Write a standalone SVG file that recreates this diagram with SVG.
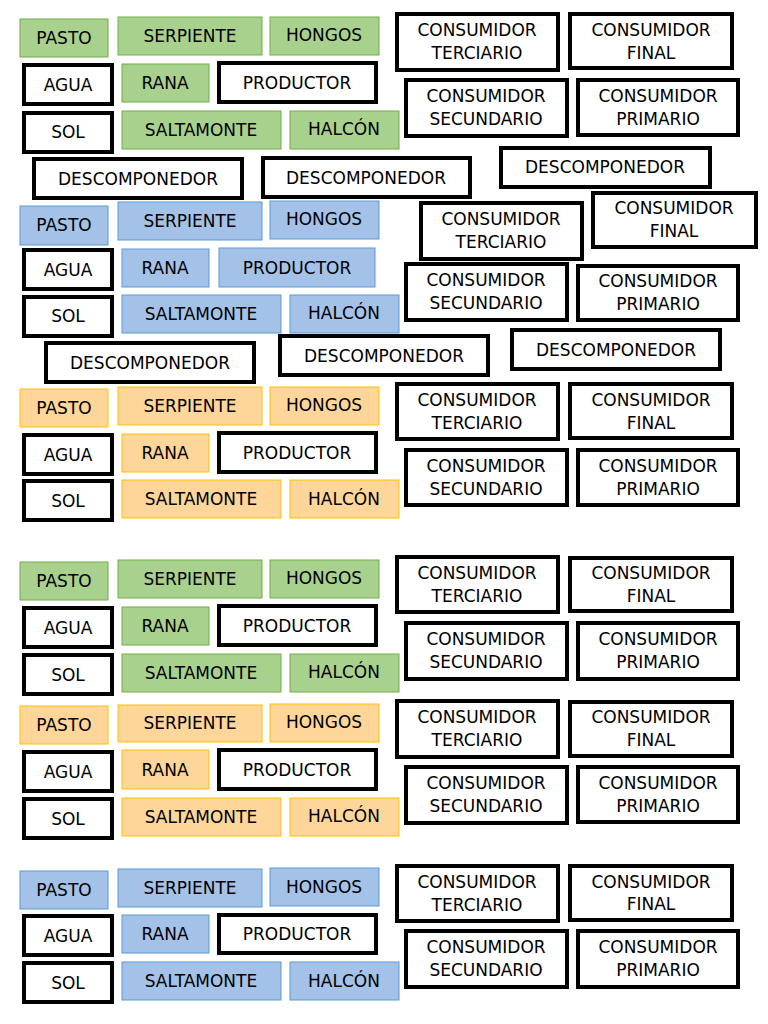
<svg xmlns="http://www.w3.org/2000/svg" width="768" height="1024" viewBox="0 0 768 1024">
<style>
text{font-family:"DejaVu Sans",sans-serif;font-size:17px;text-anchor:middle;dominant-baseline:central;fill:#000}
.w{fill:#fff;stroke:#000;stroke-width:4}
.g{fill:#a9d18e;stroke:#70ad47;stroke-width:1}
.b{fill:#a4c2e8;stroke:#5b9bd5;stroke-width:1}
.o{fill:#ffd699;stroke:#ffc000;stroke-width:1}
</style>
<rect width="768" height="1024" fill="#fff"/>
<g id="s1">
<g id="s1-pasto"><rect class="g" x="20" y="19" width="88" height="38"/><text x="64" y="38">PASTO</text></g>
<g id="s1-serpiente"><rect class="g" x="118" y="17" width="144" height="38"/><text x="190" y="36">SERPIENTE</text></g>
<g id="s1-hongos"><rect class="g" x="270" y="17" width="109" height="38"/><text x="324" y="35">HONGOS</text></g>
<g id="s1-agua"><rect class="w" x="24" y="65" width="88" height="39"/><text x="68" y="85">AGUA</text></g>
<g id="s1-rana"><rect class="g" x="122" y="64" width="87" height="38"/><text x="165" y="83">RANA</text></g>
<g id="s1-productor"><rect class="w" x="219" y="63" width="157" height="39"/><text x="297" y="83">PRODUCTOR</text></g>
<g id="s1-sol"><rect class="w" x="24" y="113" width="88" height="39"/><text x="68" y="132">SOL</text></g>
<g id="s1-saltamonte"><rect class="g" x="122" y="111" width="159" height="38"/><text x="201" y="130">SALTAMONTE</text></g>
<g id="s1-halcon"><rect class="g" x="290" y="111" width="109" height="38"/><text x="344" y="129">HALCÓN</text></g>
<g id="s1-ct"><rect class="w" x="397" y="14" width="161" height="56"/><text x="477" y="30">CONSUMIDOR</text><text x="477" y="53">TERCIARIO</text></g>
<g id="s1-cf"><rect class="w" x="570" y="14" width="162" height="54"/><text x="651" y="30">CONSUMIDOR</text><text x="651" y="53">FINAL</text></g>
<g id="s1-cs"><rect class="w" x="406" y="80" width="161" height="56"/><text x="486" y="96">CONSUMIDOR</text><text x="486" y="119">SECUNDARIO</text></g>
<g id="s1-cp"><rect class="w" x="578" y="80" width="160" height="55"/><text x="658" y="96">CONSUMIDOR</text><text x="658" y="119">PRIMARIO</text></g>
<g id="s1-d1"><rect class="w" x="34" y="159" width="208" height="39"/><text x="138" y="179">DESCOMPONEDOR</text></g>
<g id="s1-d2"><rect class="w" x="263" y="158" width="207" height="39"/><text x="366" y="178">DESCOMPONEDOR</text></g>
<g id="s1-d3"><rect class="w" x="501" y="148" width="209" height="39"/><text x="605" y="167">DESCOMPONEDOR</text></g>
</g>
<g id="s2">
<g id="s2-pasto"><rect class="b" x="20" y="206" width="88" height="39"/><text x="64" y="225">PASTO</text></g>
<g id="s2-serpiente"><rect class="b" x="118" y="202" width="144" height="38"/><text x="190" y="221">SERPIENTE</text></g>
<g id="s2-hongos"><rect class="b" x="270" y="201" width="109" height="38"/><text x="324" y="219">HONGOS</text></g>
<g id="s2-agua"><rect class="w" x="24" y="250" width="88" height="39"/><text x="68" y="270">AGUA</text></g>
<g id="s2-rana"><rect class="b" x="122" y="249" width="87" height="38"/><text x="165" y="268">RANA</text></g>
<g id="s2-productor"><rect class="b" x="219" y="248" width="156" height="39"/><text x="297" y="268">PRODUCTOR</text></g>
<g id="s2-sol"><rect class="w" x="24" y="297" width="88" height="39"/><text x="68" y="316">SOL</text></g>
<g id="s2-saltamonte"><rect class="b" x="122" y="295" width="159" height="38"/><text x="201" y="314">SALTAMONTE</text></g>
<g id="s2-halcon"><rect class="b" x="290" y="295" width="109" height="38"/><text x="344" y="313">HALCÓN</text></g>
<g id="s2-ct"><rect class="w" x="421" y="203" width="161" height="56"/><text x="501" y="219">CONSUMIDOR</text><text x="501" y="242">TERCIARIO</text></g>
<g id="s2-cf"><rect class="w" x="593" y="193" width="163" height="54"/><text x="674" y="208">CONSUMIDOR</text><text x="674" y="231">FINAL</text></g>
<g id="s2-cs"><rect class="w" x="406" y="264" width="161" height="56"/><text x="486" y="280">CONSUMIDOR</text><text x="486" y="303">SECUNDARIO</text></g>
<g id="s2-cp"><rect class="w" x="578" y="266" width="160" height="54"/><text x="658" y="281">CONSUMIDOR</text><text x="658" y="304">PRIMARIO</text></g>
<g id="s2-d1"><rect class="w" x="46" y="343" width="208" height="39"/><text x="150" y="363">DESCOMPONEDOR</text></g>
<g id="s2-d2"><rect class="w" x="280" y="336" width="208" height="39"/><text x="384" y="356">DESCOMPONEDOR</text></g>
<g id="s2-d3"><rect class="w" x="512" y="330" width="208" height="39"/><text x="616" y="350">DESCOMPONEDOR</text></g>
</g>
<g id="s3" transform="translate(0,370)">
<g id="s3-pasto"><rect class="o" x="20" y="19" width="88" height="38"/><text x="64" y="38">PASTO</text></g>
<g id="s3-serpiente"><rect class="o" x="118" y="17" width="144" height="38"/><text x="190" y="36">SERPIENTE</text></g>
<g id="s3-hongos"><rect class="o" x="270" y="17" width="109" height="38"/><text x="324" y="35">HONGOS</text></g>
<g id="s3-agua"><rect class="w" x="24" y="65" width="88" height="39"/><text x="68" y="85">AGUA</text></g>
<g id="s3-rana"><rect class="o" x="122" y="64" width="87" height="38"/><text x="165" y="83">RANA</text></g>
<g id="s3-productor"><rect class="w" x="219" y="63" width="157" height="39"/><text x="297" y="83">PRODUCTOR</text></g>
<g id="s3-sol"><rect class="w" x="24" y="111" width="88" height="39"/><text x="68" y="131">SOL</text></g>
<g id="s3-saltamonte"><rect class="o" x="122" y="110" width="159" height="38"/><text x="201" y="129">SALTAMONTE</text></g>
<g id="s3-halcon"><rect class="o" x="290" y="110" width="109" height="38"/><text x="344" y="129">HALCÓN</text></g>
<g id="s3-ct"><rect class="w" x="397" y="14" width="161" height="55"/><text x="477" y="30">CONSUMIDOR</text><text x="477" y="53">TERCIARIO</text></g>
<g id="s3-cf"><rect class="w" x="570" y="14" width="162" height="54"/><text x="651" y="30">CONSUMIDOR</text><text x="651" y="53">FINAL</text></g>
<g id="s3-cs"><rect class="w" x="406" y="80" width="161" height="55"/><text x="486" y="96">CONSUMIDOR</text><text x="486" y="119">SECUNDARIO</text></g>
<g id="s3-cp"><rect class="w" x="578" y="80" width="160" height="55"/><text x="658" y="96">CONSUMIDOR</text><text x="658" y="119">PRIMARIO</text></g>
</g>
<g id="s4" transform="translate(0,543)">
<g id="s4-pasto"><rect class="g" x="20" y="19" width="88" height="38"/><text x="64" y="38">PASTO</text></g>
<g id="s4-serpiente"><rect class="g" x="118" y="17" width="144" height="38"/><text x="190" y="36">SERPIENTE</text></g>
<g id="s4-hongos"><rect class="g" x="270" y="17" width="109" height="38"/><text x="324" y="35">HONGOS</text></g>
<g id="s4-agua"><rect class="w" x="24" y="65" width="88" height="39"/><text x="68" y="85">AGUA</text></g>
<g id="s4-rana"><rect class="g" x="122" y="64" width="87" height="38"/><text x="165" y="83">RANA</text></g>
<g id="s4-productor"><rect class="w" x="219" y="63" width="157" height="39"/><text x="297" y="83">PRODUCTOR</text></g>
<g id="s4-sol"><rect class="w" x="24" y="112" width="88" height="39"/><text x="68" y="132">SOL</text></g>
<g id="s4-saltamonte"><rect class="g" x="122" y="111" width="159" height="38"/><text x="201" y="130">SALTAMONTE</text></g>
<g id="s4-halcon"><rect class="g" x="290" y="111" width="109" height="38"/><text x="344" y="129">HALCÓN</text></g>
<g id="s4-ct"><rect class="w" x="397" y="14" width="161" height="55"/><text x="477" y="30">CONSUMIDOR</text><text x="477" y="53">TERCIARIO</text></g>
<g id="s4-cf"><rect class="w" x="570" y="15" width="162" height="53"/><text x="651" y="30">CONSUMIDOR</text><text x="651" y="53">FINAL</text></g>
<g id="s4-cs"><rect class="w" x="406" y="80" width="161" height="56"/><text x="486" y="96">CONSUMIDOR</text><text x="486" y="119">SECUNDARIO</text></g>
<g id="s4-cp"><rect class="w" x="578" y="80" width="160" height="56"/><text x="658" y="96">CONSUMIDOR</text><text x="658" y="119">PRIMARIO</text></g>
</g>
<g id="s5" transform="translate(0,687)">
<g id="s5-pasto"><rect class="o" x="20" y="19" width="88" height="38"/><text x="64" y="38">PASTO</text></g>
<g id="s5-serpiente"><rect class="o" x="118" y="18" width="144" height="37"/><text x="190" y="36">SERPIENTE</text></g>
<g id="s5-hongos"><rect class="o" x="270" y="17" width="109" height="38"/><text x="324" y="35">HONGOS</text></g>
<g id="s5-agua"><rect class="w" x="24" y="65" width="88" height="39"/><text x="68" y="85">AGUA</text></g>
<g id="s5-rana"><rect class="o" x="122" y="63" width="87" height="39"/><text x="165" y="83">RANA</text></g>
<g id="s5-productor"><rect class="w" x="219" y="63" width="157" height="39"/><text x="297" y="83">PRODUCTOR</text></g>
<g id="s5-sol"><rect class="w" x="24" y="112" width="88" height="39"/><text x="68" y="132">SOL</text></g>
<g id="s5-saltamonte"><rect class="o" x="122" y="111" width="159" height="38"/><text x="201" y="130">SALTAMONTE</text></g>
<g id="s5-halcon"><rect class="o" x="290" y="111" width="109" height="38"/><text x="344" y="129">HALCÓN</text></g>
<g id="s5-ct"><rect class="w" x="397" y="14" width="161" height="56"/><text x="477" y="30">CONSUMIDOR</text><text x="477" y="53">TERCIARIO</text></g>
<g id="s5-cf"><rect class="w" x="570" y="15" width="162" height="54"/><text x="651" y="30">CONSUMIDOR</text><text x="651" y="53">FINAL</text></g>
<g id="s5-cs"><rect class="w" x="406" y="80" width="161" height="56"/><text x="486" y="96">CONSUMIDOR</text><text x="486" y="119">SECUNDARIO</text></g>
<g id="s5-cp"><rect class="w" x="578" y="80" width="160" height="55"/><text x="658" y="96">CONSUMIDOR</text><text x="658" y="119">PRIMARIO</text></g>
</g>
<g id="s6" transform="translate(0,852)">
<g id="s6-pasto"><rect class="b" x="20" y="19" width="88" height="38"/><text x="64" y="38">PASTO</text></g>
<g id="s6-serpiente"><rect class="b" x="118" y="17" width="144" height="38"/><text x="190" y="36">SERPIENTE</text></g>
<g id="s6-hongos"><rect class="b" x="270" y="16" width="109" height="38"/><text x="324" y="35">HONGOS</text></g>
<g id="s6-agua"><rect class="w" x="24" y="64" width="88" height="39"/><text x="68" y="84">AGUA</text></g>
<g id="s6-rana"><rect class="b" x="122" y="63" width="87" height="38"/><text x="165" y="82">RANA</text></g>
<g id="s6-productor"><rect class="w" x="219" y="63" width="157" height="38"/><text x="297" y="82">PRODUCTOR</text></g>
<g id="s6-sol"><rect class="w" x="24" y="111" width="88" height="39"/><text x="68" y="131">SOL</text></g>
<g id="s6-saltamonte"><rect class="b" x="122" y="110" width="159" height="38"/><text x="201" y="129">SALTAMONTE</text></g>
<g id="s6-halcon"><rect class="b" x="290" y="110" width="109" height="38"/><text x="344" y="129">HALCÓN</text></g>
<g id="s6-ct"><rect class="w" x="397" y="14" width="161" height="55"/><text x="477" y="30">CONSUMIDOR</text><text x="477" y="53">TERCIARIO</text></g>
<g id="s6-cf"><rect class="w" x="570" y="14" width="162" height="54"/><text x="651" y="30">CONSUMIDOR</text><text x="651" y="52">FINAL</text></g>
<g id="s6-cs"><rect class="w" x="406" y="79" width="161" height="56"/><text x="486" y="95">CONSUMIDOR</text><text x="486" y="118">SECUNDARIO</text></g>
<g id="s6-cp"><rect class="w" x="578" y="79" width="160" height="56"/><text x="658" y="95">CONSUMIDOR</text><text x="658" y="118">PRIMARIO</text></g>
</g>
<g id="connectors"/>
</svg>
